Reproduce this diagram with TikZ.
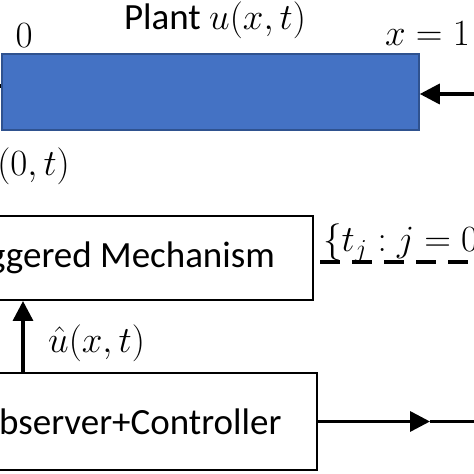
\RequirePackage{fix-cm}
\documentclass[tikz,border=0pt]{standalone}
\usepackage{fontspec}
\setmainfont{Carlito}
\usetikzlibrary{arrows.meta,positioning}
\definecolor{plantblu}{HTML}{4472C4}
\definecolor{plantbordo}{HTML}{2F528F}
\tikzset{
  blocco/.style={draw, line width=2pt, minimum height=84pt, font=\fontsize{37}{44}\selectfont},
  freccia/.style={line width=3.5pt, -{Triangle[length=20pt,width=20pt]}},
  etich/.style={font=\fontsize{37}{44}\selectfont, inner sep=0pt},
}
\begin{document}
\begin{tikzpicture}[x=1pt,y=1pt]
\clip (0,0) rectangle (474,474);
% Impianto
\node[draw=plantbordo, fill=plantblu, line width=1.5pt, minimum width=417pt, minimum height=76pt, inner sep=0pt] (plant) at (210.5,382) {};
\node[etich, anchor=base] (titolo) at (215,444) {Plant $u(x,t)$};
\node[etich, anchor=base] (zero) at (24,426) {$0$};
\node[etich, anchor=base east] (bordo) at (470,428) {$x=1$};
\node[etich, anchor=base east] (uzero) at (70,298) {$u(0,t)$};

% Ingressi e uscite dell'impianto
\coordinate (ingresso) at (474,380);
\draw[freccia] (ingresso) -- (plant.east |- ingresso);
\draw[line width=3.5pt] ([yshift=6pt]plant.west) -- ++(-10,0);

% Blocchi
\node[blocco, minimum width=400pt] (trigger) at (113,216) {Triggered Mechanism};
\node[blocco, minimum width=378pt, minimum height=97pt] (osserv) at (128,52.5) {Observer+Controller};

% Stima
\coordinate (colonna) at (23,0);
\draw[freccia] (osserv.north -| colonna) -- (trigger.south -| colonna);
\node[etich, anchor=base west] (uhat) at (48,121) {$\hat u(x,t)$};

% Istanti di aggiornamento
\coordinate (tratt) at (320,212);
\coordinate (fine) at (480,212);
\draw[line width=4.5pt, dash pattern=on 20pt off 12pt] (tratt) -- (fine);
\node[etich, anchor=base west] (istanti) at (323,222) {$\{t_j : j=0,1,2,\dots\}$};

% Controllo
\coordinate (punta) at (430,52.5);
\coordinate (uscita) at (480,52.5);
\draw[freccia] (osserv.east) -- (punta);
\draw[line width=3.5pt] (punta) -- (uscita);
\end{tikzpicture}
\end{document}
